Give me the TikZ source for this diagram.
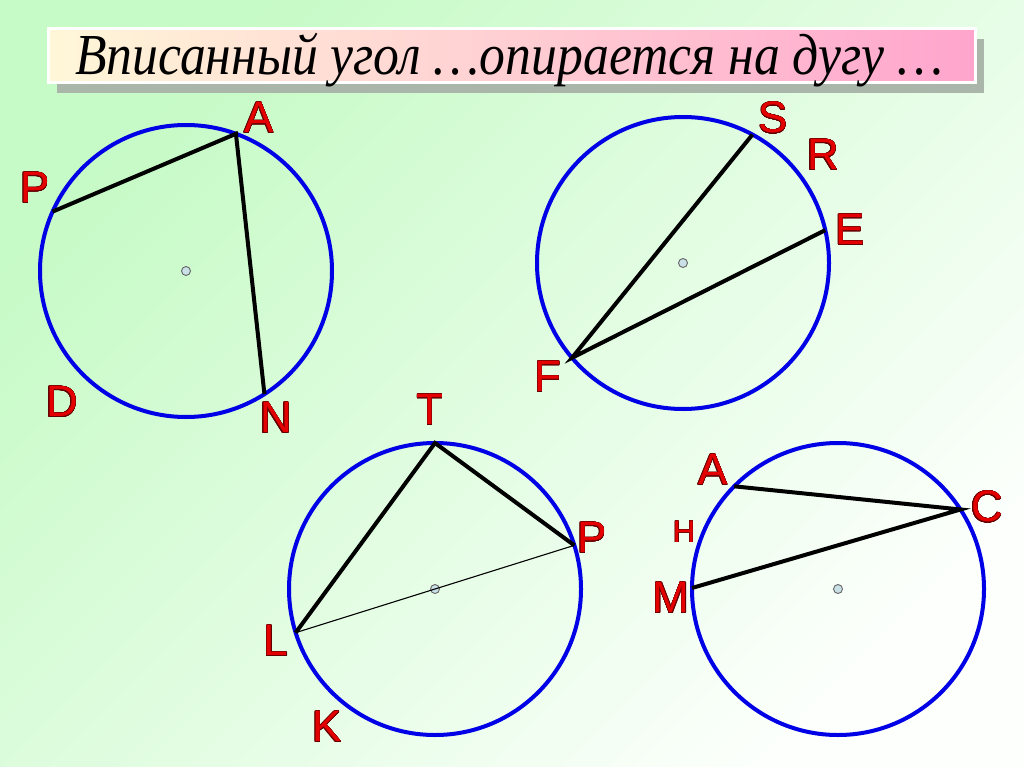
\documentclass[tikz,border=0pt]{standalone}
\usepackage{fontspec}
\setmainfont{Liberation Serif}
\newfontfamily\labelfont{Liberation Sans}
\usepackage{contour}
\usetikzlibrary{calc}
\contourlength{0.35pt}
\contournumber{24}
\usepackage{xcolor}
\definecolor{bgtop}{RGB}{198,250,198}
\definecolor{bgbot}{RGB}{252,255,252}
\definecolor{rimblue}{RGB}{0,0,230}
\definecolor{labred}{RGB}{228,0,0}
\definecolor{labedge}{RGB}{100,0,0}
\definecolor{boxleft}{RGB}{255,247,216}
\definecolor{boxright}{RGB}{255,165,205}
\definecolor{shadowgray}{RGB}{170,182,170}
\definecolor{dotfill}{RGB}{200,224,230}
\tikzset{
    rim/.style={
        draw=rimblue,
        line width=4pt
    },
    chord/.style={
        draw=black,
        line width=4pt,
        line join=miter
    },
    thinchord/.style={
        draw=black,
        line width=1.1pt
    },
    centre/.style={
        draw=black!60,
        fill=dotfill,
        circle,
        line width=0.9pt,
        minimum size=9pt,
        inner sep=0pt
    },
    pointlabel/.style={
        inner sep=0pt,
        text=labred,
        font=\labelfont\fontsize{44}{44}\selectfont
    },
    smalllabel/.style={
        pointlabel,
        font=\labelfont\fontsize{31}{31}\selectfont
    }
}
\newcommand{\lab}[1]{\contour{labedge}{#1}}

\begin{document}
\begin{tikzpicture}[x=1pt, y=-1pt]
  \useasboundingbox (0,0) rectangle (1024,767);
  % Background
  \shade[top color=bgtop, bottom color=bgbot, shading angle=45] (0,0) rectangle (1024,767);

  % Title box
  \fill[shadowgray] (57,39) rectangle (984,93);
  \shade[left color=boxleft, right color=boxright] (48,29) rectangle (975,83);
  \draw[white, line width=3pt] (48,29) rectangle (975,83);
  \node[anchor=base west, inner sep=0pt, font=\itshape\fontsize{58}{58}\selectfont] (title) at (75,75) {\resizebox{868pt}{\height}{Вписанный угол \ldots опирается на дугу \ldots}};

  % Circle centres
  \coordinate (o1) at (186,271);
  \coordinate (o2) at (683,263);
  \coordinate (o3) at (435,589);
  \coordinate (o4) at (838,589);

  % Circles
  \draw[rim] (o1) circle (146pt);
  \draw[rim] (o2) circle (146pt);
  \draw[rim] (o3) circle (146pt);
  \draw[rim] (o4) circle (146pt);

  % Centre dots
  \node[centre] (dot1) at (o1) {};
  \node[centre] (dot2) at (o2) {};
  \node[centre] (dot3) at (o3) {};
  \node[centre] (dot4) at (o4) {};

  % Points on the circles
  \coordinate (P1) at ($(o1)+(156:146pt)$);
  \coordinate (A1) at ($(o1)+(70:146pt)$);
  \coordinate (N1) at ($(o1)+(-57.5:146pt)$);
  \coordinate (S2) at ($(o2)+(61.6:146pt)$);
  \coordinate (E2) at ($(o2)+(13:146pt)$);
  \coordinate (F2) at ($(o2)+(220.5:146pt)$);
  \coordinate (T3) at ($(o3)+(90:146pt)$);
  \coordinate (P3) at ($(o3)+(17.4:146pt)$);
  \coordinate (L3) at ($(o3)+(197.4:146pt)$);
  \coordinate (A4) at ($(o4)+(135.3:146pt)$);
  \coordinate (C4) at ($(o4)+(33:146pt)$);
  \coordinate (M4) at ($(o4)+(179.6:146pt)$);

  % Inscribed angles
  \draw[chord] (P1) -- (A1) -- (N1);
  \draw[chord] (S2) -- (F2) -- (E2);
  \draw[thinchord] (L3) -- (P3);
  \draw[chord] (L3) -- (T3) -- (P3);
  \draw[chord] (A4) -- (C4) -- (M4);

  % Labels, first circle
  \node[pointlabel] (tP1) at (35,188) {\lab{P}};
  \node[pointlabel] (tA1) at (259,118) {\lab{A}};
  \node[pointlabel] (tD1) at (62,402) {\lab{D}};
  \node[pointlabel] (tN1) at (276,418) {\lab{N}};

  % Labels, second circle
  \node[pointlabel] (tS2) at (773,118) {\lab{S}};
  \node[pointlabel] (tR2) at (823,155) {\lab{R}};
  \node[pointlabel] (tE2) at (850,230) {\lab{E}};
  \node[pointlabel] (tF2) at (548,377) {\lab{F}};

  % Labels, third circle
  \node[pointlabel] (tT3) at (430,410) {\lab{T}};
  \node[pointlabel] (tP3) at (592,538) {\lab{P}};
  \node[pointlabel] (tL3) at (276,641) {\lab{L}};
  \node[pointlabel] (tK3) at (327,727) {\lab{K}};

  % Labels, fourth circle
  \node[pointlabel] (tA4) at (713,470) {\lab{A}};
  \node[smalllabel] (tH4) at (684,532) {\lab{H}};
  \node[pointlabel] (tC4) at (987,507) {\lab{C}};
  \node[pointlabel] (tM4) at (671,598) {\lab{M}};
\end{tikzpicture}
\end{document}
